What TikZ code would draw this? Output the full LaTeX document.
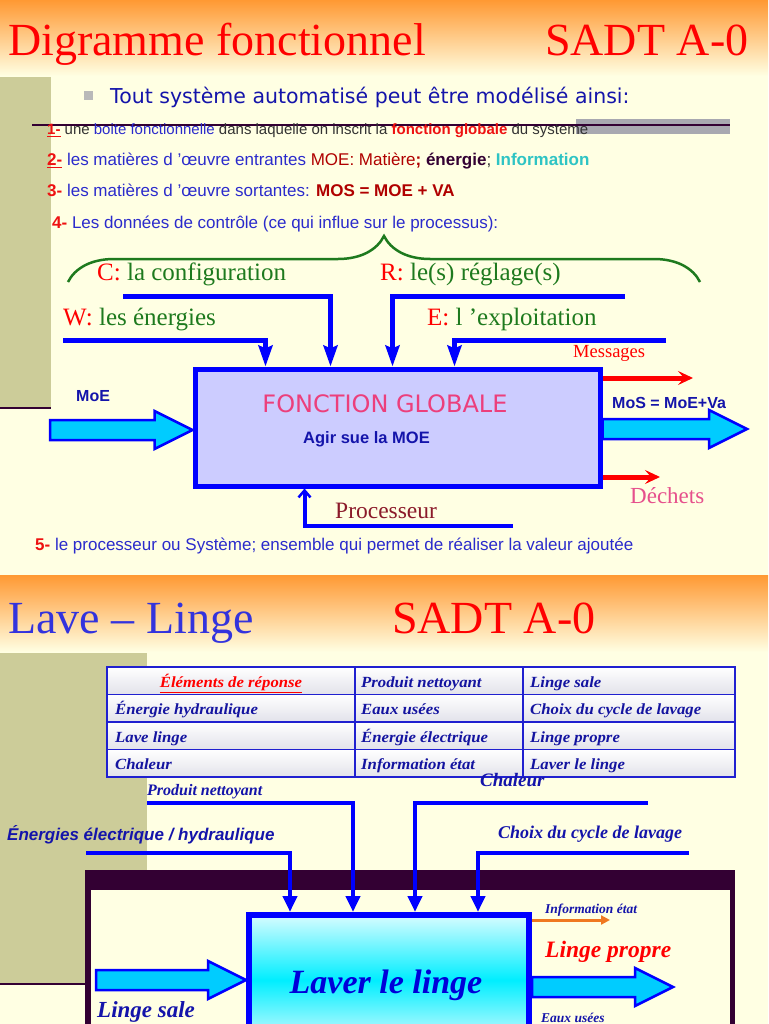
\documentclass[tikz,border=0pt]{standalone}
\usepackage{fontspec}
\setmainfont{Liberation Serif}
\newfontfamily\arialfont{Liberation Sans}
\newfontfamily\comicfont{DejaVu Sans}
\newfontfamily\tabfont[FakeStretch=1.08]{Liberation Serif}
\usepackage{tikz}
\usetikzlibrary{arrows.meta,positioning,calc,decorations.pathreplacing}
\definecolor{HeadOrange}{HTML}{FF9933}
\definecolor{SlideCream}{HTML}{FFFFE3}
\definecolor{Khaki}{HTML}{CCCC99}
\definecolor{FrameDark}{HTML}{330033}
\definecolor{LineBlue}{HTML}{0000FF}
\definecolor{TextBlue}{HTML}{2B2BCC}
\definecolor{DeepBlue}{HTML}{1414AA}
\definecolor{TitleBlue}{HTML}{3333DD}
\definecolor{BoxLavender}{HTML}{CCCCFF}
\definecolor{ArrowCyan}{HTML}{00CCFF}
\definecolor{SadtRed}{HTML}{FF0000}
\definecolor{NumRed}{HTML}{EE1111}
\definecolor{DarkRed}{HTML}{B00000}
\definecolor{PinkTitle}{HTML}{EC3F7C}
\definecolor{DechetPink}{HTML}{E6508C}
\definecolor{ProcRed}{HTML}{8B1A2A}
\definecolor{LabelGreen}{HTML}{1E7A1E}
\definecolor{InfoCyan}{HTML}{2EC4C4}
\definecolor{DarkText}{HTML}{333333}
\definecolor{GrayBar}{HTML}{A8A8B0}
\definecolor{TabBlue}{HTML}{2020D0}
\definecolor{TabText}{HTML}{1414A0}
\definecolor{CellGray}{HTML}{E2E2EA}
\definecolor{CyanLight}{HTML}{D8FCFF}
\definecolor{CyanMid}{HTML}{00EEFF}
\definecolor{InfoOrange}{HTML}{F07820}
\tikzset{
  slidetitle/.style={font=\fontsize{46}{46}\selectfont, anchor=base west, inner sep=0},
  introtext/.style={font=\comicfont\fontsize{20.5}{20.5}\selectfont, text=DeepBlue, anchor=base west, inner sep=0},
  steptext/.style={font=\arialfont\fontsize{17}{17}\selectfont, text=TextBlue, anchor=base west, inner sep=0},
  ctrllabel/.style={font=\fontsize{25}{25}\selectfont, text=LabelGreen, anchor=base west, inner sep=0},
  smallserif/.style={font=\fontsize{#1}{#1}\selectfont, anchor=base west, inner sep=0},
  boldsans/.style={font=\arialfont\bfseries\fontsize{16}{16}\selectfont, text=DeepBlue, anchor=base west, inner sep=0},
  tabtext/.style={font=\tabfont\bfseries\itshape\fontsize{15.5}{15.5}\selectfont, text=TabText, anchor=base west, inner sep=0},
  washtext/.style={font=\bfseries\itshape\fontsize{#1}{#1}\selectfont, text=DeepBlue, anchor=base west, inner sep=0},
  tabcell/.style={top color=white, bottom color=CellGray, draw=TabBlue, line width=1.5pt},
  funcbox/.style={draw=LineBlue, line width=5pt, fill=BoxLavender, minimum width=405pt, minimum height=117pt, inner sep=0},
  washbox/.style={draw=LineBlue, line width=6pt, top color=CyanLight, bottom color=CyanLight, middle color=CyanMid, minimum width=280pt, minimum height=130pt, inner sep=0},
  ctrlarrow/.style={-{Stealth[length=21pt,width=14pt,inset=3pt]}, line width=5pt, draw=LineBlue},
  ctrlthin/.style={-{Triangle[length=16pt,width=14pt]}, line width=4.5pt, draw=LineBlue},
  procarrow/.style={-{Straight Barb[length=7pt,width=12pt,line width=2.5pt]}, line width=4pt, draw=LineBlue},
  outarrow/.style={-{Stealth[length=15pt,width=14pt,inset=6pt]}, line width=5pt, draw=SadtRed},
  infoarrow/.style={-{Triangle[length=9pt,width=9pt]}, line width=3pt, draw=InfoOrange},
  fatarrow/.style={draw=LineBlue, line width=2.5pt, fill=ArrowCyan, line join=miter,
    to path={let \p1=(\tikztostart), \p2=(\tikztotarget) in
      (\x1,\y1+10pt) -- (\x2-38pt,\y1+10pt) -- (\x2-38pt,\y1+19pt) -- (\x2,\y1)
      -- (\x2-38pt,\y1-19pt) -- (\x2-38pt,\y1-10pt) -- (\x1,\y1-10pt) -- cycle}},
  bracestyle/.style={draw=LabelGreen, line width=2.5pt, decorate, decoration={brace, amplitude=46pt}}
}
\begin{document}
\begin{tikzpicture}[x=1pt,y=-1pt]
\useasboundingbox (0,0) rectangle (768,1024);
\clip (0,0) rectangle (768,1024);
\fill[SlideCream] (0,0) rectangle (768,1024);
% ---- slide 1 : digramme fonctionnel
\shade[top color=HeadOrange, bottom color=SlideCream] (0,0) rectangle (768,76);
\fill[Khaki] (0,77) rectangle (51,408);
\draw[FrameDark, line width=2.5pt] (0,408) -- (51,408);
\fill[GrayBar] (576,119) rectangle (730,134);
\draw[FrameDark, line width=2pt] (32,125) -- (730,125);
\node[slidetitle, text=SadtRed] (title1) at (8,56) {Digramme fonctionnel};
\node[slidetitle, text=SadtRed] (sadt1) at (545,56) {SADT A-0};
\node[fill=gray!55, minimum size=9pt, inner sep=0] (bullet) at (88,96) {};
\node[introtext] (intro) at (110,104) {Tout système automatisé peut être modélisé ainsi:};
\node[steptext, font=\arialfont\fontsize{15}{15}\selectfont] (step1) at (47,135)
  {\textcolor{NumRed}{\bfseries\underline{1-}} \textcolor{DarkText}{une} boite fonctionnelle \textcolor{DarkText}{dans laquelle on inscrit la} \textcolor{NumRed}{\bfseries fonction globale} \textcolor{DarkText}{du systeme}};
\node[steptext] (step2) at (47,166)
  {\textcolor{NumRed}{\bfseries\underline{2-}} les matières d ’œuvre entrantes \textcolor{DarkRed}{MOE: Matière\textbf{;} }\textbf{\textcolor{FrameDark}{énergie}}\textcolor{DarkText}{; }\textcolor{InfoCyan}{\bfseries Information}};
\node[steptext] (step3) at (47,197)
  {\textcolor{NumRed}{\bfseries 3-} les matières d ’œuvre sortantes: \textcolor{DarkRed}{\bfseries MOS = MOE + VA}};
\node[steptext] (step4) at (52,229)
  {\textcolor{NumRed}{\bfseries 4-} Les données de contrôle (ce qui influe sur le processus):};
\draw[bracestyle] (68,282) -- (700,282);
\node[ctrllabel] (lblC) at (97,280) {\textcolor{SadtRed}{C:} la configuration};
\node[ctrllabel] (lblR) at (380,280) {\textcolor{SadtRed}{R:} le(s) réglage(s)};
\node[ctrllabel] (lblW) at (63,325) {\textcolor{SadtRed}{W:} les énergies};
\node[ctrllabel] (lblE) at (427,325) {\textcolor{SadtRed}{E:} l ’exploitation};
\node[funcbox] (fg) at (397.5,427.5) {};
\node[font=\comicfont\fontsize{24}{24}\selectfont, text=PinkTitle, anchor=base, inner sep=0] (fgtitle) at (385,412) {FONCTION GLOBALE};
\node[boldsans, anchor=base, font=\arialfont\bfseries\fontsize{16.5}{16.5}\selectfont] (fgsub) at (366.5,443) {Agir sue la MOE};
\coordinate (inW) at (63,340);
\coordinate (inC) at (123,296);
\coordinate (inR) at (625,296);
\coordinate (inE) at (666,340);
\draw[ctrlarrow] (inW) -| ([xshift=73pt]fg.north west);
\draw[ctrlarrow] (inC) -| ([xshift=138pt]fg.north west);
\draw[ctrlarrow] (inR) -| ([xshift=200pt]fg.north west);
\draw[ctrlarrow] (inE) -| ([xshift=262pt]fg.north west);
\coordinate (moe) at (50,430);
\coordinate (mos) at (747,429);
\draw[fatarrow] (moe) to (fg.west |- moe);
\draw[fatarrow] (fg.east |- mos) to (mos);
\node[boldsans] (lblMoE) at (76,401) {MoE};
\node[boldsans] (lblMoS) at (612,408) {MoS = MoE+Va};
\coordinate (msg) at (693,378);
\coordinate (dech) at (660,477);
\draw[outarrow] (fg.east |- msg) -- (msg);
\draw[outarrow] (fg.east |- dech) -- (dech);
\node[smallserif=18.5, text=SadtRed] (lblMsg) at (573,357) {Messages};
\node[smallserif=23, text=DechetPink] (lblDech) at (630,503) {Déchets};
\coordinate (inP) at (513,526);
\draw[procarrow] (inP) -| ([xshift=112pt]fg.south west);
\node[smallserif=23.5, text=ProcRed] (lblProc) at (335,518) {Processeur};
\node[steptext] (step5) at (35,550)
  {\textcolor{NumRed}{\bfseries 5-} le processeur ou Système; ensemble qui permet de réaliser la valeur ajoutée};
% ---- slide 2 : lave-linge
\shade[top color=HeadOrange, bottom color=SlideCream] (0,575) rectangle (768,652);
\node[slidetitle, text=TitleBlue] (title2) at (8,633) {Lave – Linge};
\node[slidetitle, text=SadtRed] (sadt2) at (392,633) {SADT A-0};
\fill[Khaki] (0,653) rectangle (147,984);
\draw[FrameDark, line width=2.5pt] (0,984) -- (90,984);
\foreach \ca/\cb/\cc [count=\r from 0] in {{}/{Produit nettoyant}/{Linge sale},
    {Énergie hydraulique}/{Eaux usées}/{Choix du cycle de lavage},
    {Lave linge}/{Énergie électrique}/{Linge propre},
    {Chaleur}/{Information état}/{Laver le linge}}{
  \path[tabcell] (107,{667+27.5*\r}) rectangle (355,{694.5+27.5*\r});
  \path[tabcell] (355,{667+27.5*\r}) rectangle (523,{694.5+27.5*\r});
  \path[tabcell] (523,{667+27.5*\r}) rectangle (735,{694.5+27.5*\r});
  \node[tabtext] (cell-\r-a) at (115,{687+27.5*\r}) {\ca};
  \node[tabtext] (cell-\r-b) at (361,{687+27.5*\r}) {\cb};
  \node[tabtext] (cell-\r-c) at (530,{687+27.5*\r}) {\cc};
}
\node[tabtext, anchor=base] (cellhead) at (231,687) {\textcolor{SadtRed}{\underline{Éléments de réponse}}};
\fill[FrameDark] (85,870) rectangle (735,1030);
\fill[SlideCream] (91,890) rectangle (730,1030);
\node[washbox] (lav) at (389,980) {};
\node[washtext=34, anchor=base, text=LineBlue!85!black] (lavtext) at (386,993) {Laver le linge};
\node[washtext=16] (lblProd) at (147,795) {Produit nettoyant};
\node[washtext=19] (lblChal) at (480,786) {Chaleur};
\node[font=\arialfont\bfseries\itshape\fontsize{17}{17}\selectfont, text=DeepBlue, anchor=base west, inner sep=0] (lblEner) at (7,840) {Énergies électrique / hydraulique};
\node[washtext=18] (lblChoix) at (498,838) {Choix du cycle de lavage};
\coordinate (inProd) at (147,803);
\coordinate (inChal) at (648,803);
\coordinate (inEner) at (86,853);
\coordinate (inChoix) at (689,853);
\draw[ctrlthin] (inEner) -| ([xshift=44pt]lav.north west);
\draw[ctrlthin] (inProd) -| ([xshift=107pt]lav.north west);
\draw[ctrlthin] (inChal) -| ([xshift=169pt]lav.north west);
\draw[ctrlthin] (inChoix) -| ([xshift=232pt]lav.north west);
\coordinate (sale) at (96,980);
\coordinate (propre) at (673,987);
\draw[fatarrow] (sale) to (lav.west |- sale);
\draw[fatarrow] (lav.east |- propre) to (propre);
\coordinate (info) at (610,920);
\draw[infoarrow] (lav.east |- info) -- (info);
\node[washtext=13.5] (lblInfo) at (545,913) {Information état};
\node[washtext=23.5, text=SadtRed] (lblPropre) at (545,957) {Linge propre};
\node[washtext=23] (lblSale) at (97,1017) {Linge sale};
\node[washtext=13.5] (lblEaux) at (541,1022) {Eaux usées};
\end{tikzpicture}
\end{document}
